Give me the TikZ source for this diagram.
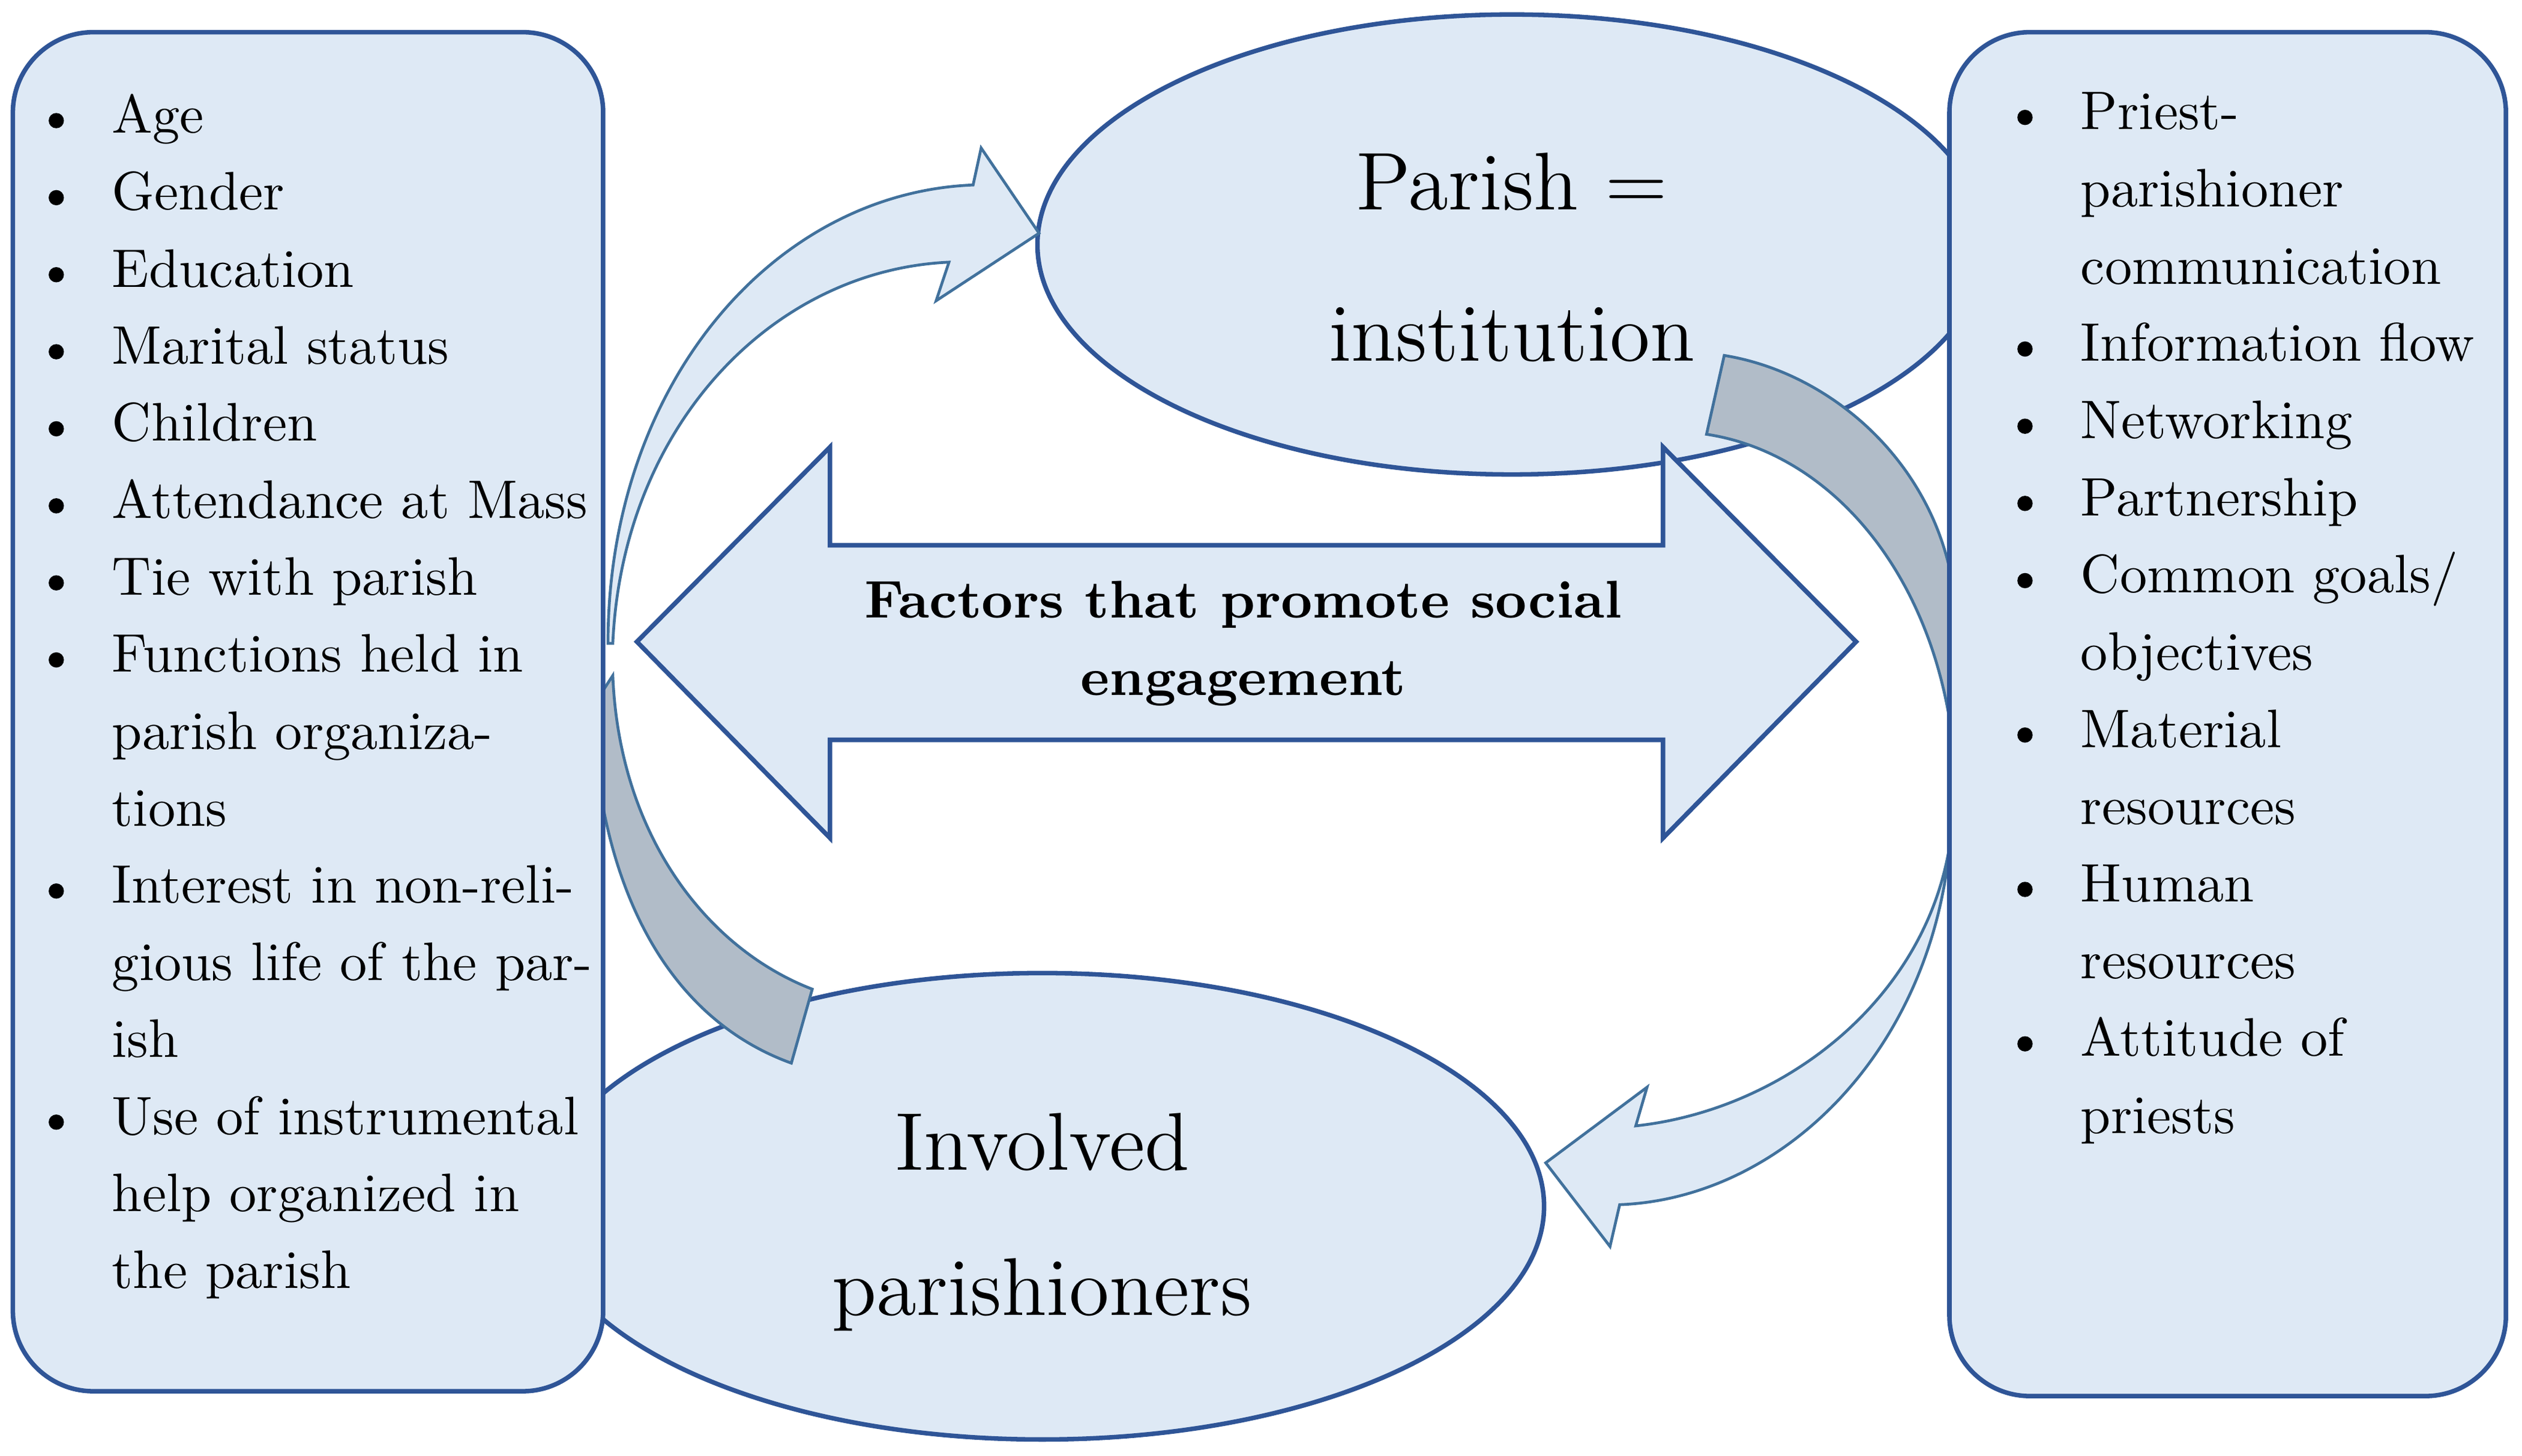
\documentclass[tikz,border=0pt]{standalone}
\usepackage{fontspec}
\usetikzlibrary{shapes.geometric}
\begin{document}
\begin{tikzpicture}[x=0.1mm,y=-0.1mm,
  box/.style={draw=bdr,fill=lb,line width=0.8pt},
  carr/.style={draw=cb,fill=lb,line width=0.5pt},
  garr/.style={draw=cb,fill=gr,line width=0.5pt},
  it/.style={anchor=mid west,inner sep=0pt,font=\fontsize{9.6}{11}\selectfont},
  bul/.style={circle,fill=black,inner sep=0pt,minimum size=0.95mm},
  big/.style={inner sep=0pt,font=\fontsize{14.5}{16}\selectfont},
  fac/.style={inner sep=0pt,font=\fontsize{9.4}{11}\selectfont\bfseries}]
\definecolor{lb}{HTML}{DEE9F5}
\definecolor{bdr}{HTML}{2F5597}
\definecolor{cb}{HTML}{41719C}
\definecolor{gr}{HTML}{B1BCC8}
\useasboundingbox (0,0) rectangle (1568,905);
% ellipses
\node[box,ellipse,inner sep=0pt,minimum width=59mm,minimum height=28.6mm] (pe) at (940,152) {};
\node[box,ellipse,inner sep=0pt,minimum width=62.4mm,minimum height=29mm] (ie) at (648,750) {};
\node[big] (p1) at (940,113) {Parish =};
\node[big] (p2) at (940,208) {institution};
\node[big] (i1) at (648,710) {Involved};
\node[big] (i2) at (648,805) {parishioners};
% double arrow
\draw[box] (396,399) -- (516,278) -- (516,339) -- (1034,339) -- (1034,278) -- (1154,399)
  -- (1034,521) -- (1034,460) -- (516,460) -- (516,521) -- cycle;
\node[fac] (f1) at (773,376) {Factors that promote social};
\node[fac] (f2) at (773,425) {engagement};
% curved arrows
\draw[garr] (368,440) .. controls (373,560) and (420,635) .. (492,661) -- (505,615)
  .. controls (440,590) and (385,520) .. (381,420) -- cycle;
\draw[carr] (378,400) .. controls (378,240) and (480,120) .. (605,115) -- (610,92) -- (646,145)
  -- (582,187) -- (590,163) .. controls (480,168) and (387,265) .. (381,400) -- cycle;
\draw[garr] (1072,221) .. controls (1140,232) and (1205,290) .. (1215,370) -- (1215,470)
  .. controls (1205,360) and (1140,282) .. (1061,270) -- cycle;
\draw[carr] (1213,515) .. controls (1205,650) and (1110,745) .. (1007,749) -- (1001,775) -- (961,723)
  -- (1024,676) -- (1017,700) .. controls (1110,690) and (1200,620) .. (1213,520) -- cycle;
% boxes
\draw[box,rounded corners=5mm] (8,20) rectangle (375,865);
\draw[box,rounded corners=5mm] (1212,20) rectangle (1558,868);
\foreach \t [count=\i] in {Age,Gender,Education,Marital status,Children,Attendance at Mass,Tie with parish,Functions held in,parish organiza-,tions,Interest in non-reli-,gious life of the par-,ish,Use of instrumental,help organized in,the parish}
  \node[it] (l\i) at (69,{75+47.9*(\i-1)}) {\t};
\foreach \i in {1,...,8,11,14} \node[bul] (lb\i) at (35,{75+47.9*(\i-1)}) {};
\foreach \t [count=\i] in {Priest-,parishioner,communication,Information flow,Networking,Partnership,Common goals/,objectives,Material,resources,Human,resources,Attitude of,priests}
  \node[it] (r\i) at (1293,{73+48*(\i-1)}) {\t};
\foreach \i in {1,4,5,6,7,9,11,13} \node[bul] (rb\i) at (1259,{73+48*(\i-1)}) {};
\end{tikzpicture}
\end{document}
